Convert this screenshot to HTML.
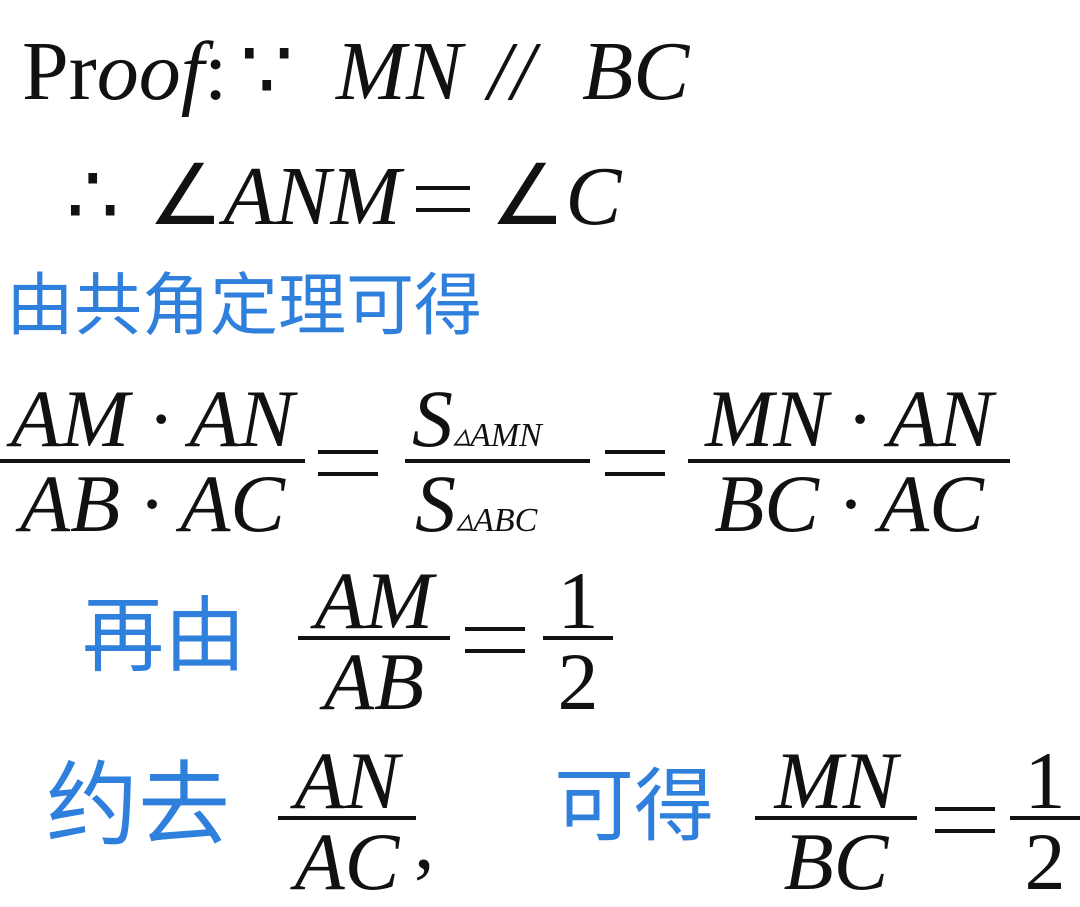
<!DOCTYPE html>
<html><head><meta charset="utf-8"><style>
body{margin:0;width:1080px;height:902px;background:#fff;position:relative;overflow:hidden;font-family:"Liberation Serif",serif;color:#111}
.t{position:absolute;line-height:1;white-space:nowrap}
.i{font-style:italic}
.b{position:absolute;height:4px;background:#111}
.cn{position:absolute;line-height:1;white-space:nowrap;color:#2f7fdc;font-family:"Noto Sans CJK SC","WenQuanYi Zen Hei",sans-serif}
.c{text-align:center}
.eq{position:absolute;width:60px;height:18px;border-top:4px solid #111;border-bottom:4px solid #111}
</style></head><body>
<!-- line 1 -->
<div class="t" style="left:22px;top:30px;font-size:84px">Pr<span class="i">oof</span>:</div>
<div class="t" style="left:240px;top:30px;font-size:84px">∵</div>
<div class="t i" style="left:336px;top:30px;font-size:84px">MN</div>
<div class="t i" style="left:488px;top:30px;font-size:84px">//</div>
<div class="t i" style="left:582px;top:30px;font-size:84px">BC</div>
<!-- line 2 -->
<div class="t" style="left:66px;top:155px;font-size:84px">∴</div>
<div class="t" style="left:148px;top:155px;font-size:84px">∠<span class="i">ANM</span></div>
<div class="eq" style="left:416px;top:186px;width:54px"></div>
<div class="t" style="left:490px;top:155px;font-size:84px">∠<span class="i">C</span></div>
<!-- line 3 -->
<div class="cn" style="left:6px;top:266px;font-size:68px">由共角定理可得</div>

<!-- big equation -->
<div class="t i c" style="left:0;width:305px;top:378px;font-size:82px">AM · AN</div>
<div class="b" style="left:0;width:305px;top:459px"></div>
<div class="t i c" style="left:0;width:305px;top:463px;font-size:82px">AB · AC</div>
<div class="eq" style="left:318px;top:450px"></div>
<div class="t i" style="left:412px;top:378px;font-size:82px">S<span style="font-size:34px">▵AMN</span></div>
<div class="b" style="left:405px;width:185px;top:459px"></div>
<div class="t i" style="left:415px;top:463px;font-size:82px">S<span style="font-size:34px">▵ABC</span></div>
<div class="eq" style="left:605px;top:450px"></div>
<div class="t i c" style="left:688px;width:322px;top:378px;font-size:82px">MN · AN</div>
<div class="b" style="left:688px;width:322px;top:459px"></div>
<div class="t i c" style="left:688px;width:322px;top:463px;font-size:82px">BC · AC</div>

<!-- 再由 -->
<div class="cn" style="left:82px;top:588px;font-size:82px">再由</div>
<div class="t i c" style="left:298px;width:152px;top:560px;font-size:82px">AM</div>
<div class="b" style="left:298px;width:152px;top:636px"></div>
<div class="t i c" style="left:298px;width:152px;top:641px;font-size:82px">AB</div>
<div class="eq" style="left:465px;top:627px"></div>
<div class="t c" style="left:543px;width:70px;top:560px;font-size:82px">1</div>
<div class="b" style="left:543px;width:70px;top:636px"></div>
<div class="t c" style="left:543px;width:70px;top:641px;font-size:82px">2</div>

<!-- 约去 -->
<div class="cn" style="left:46px;top:752px;font-size:92px">约去</div>
<div class="t i c" style="left:278px;width:138px;top:740px;font-size:82px">AN</div>
<div class="b" style="left:278px;width:138px;top:816px"></div>
<div class="t i c" style="left:278px;width:138px;top:821px;font-size:82px">AC</div>
<div class="t" style="left:414px;top:800px;font-size:82px">,</div>
<div class="cn" style="left:554px;top:760px;font-size:80px">可得</div>
<div class="t i c" style="left:755px;width:162px;top:740px;font-size:82px">MN</div>
<div class="b" style="left:755px;width:162px;top:816px"></div>
<div class="t i c" style="left:755px;width:162px;top:821px;font-size:82px">BC</div>
<div class="eq" style="left:935px;top:807px"></div>
<div class="t c" style="left:1010px;width:70px;top:740px;font-size:82px">1</div>
<div class="b" style="left:1010px;width:70px;top:816px"></div>
<div class="t c" style="left:1010px;width:70px;top:821px;font-size:82px">2</div>
</body></html>
